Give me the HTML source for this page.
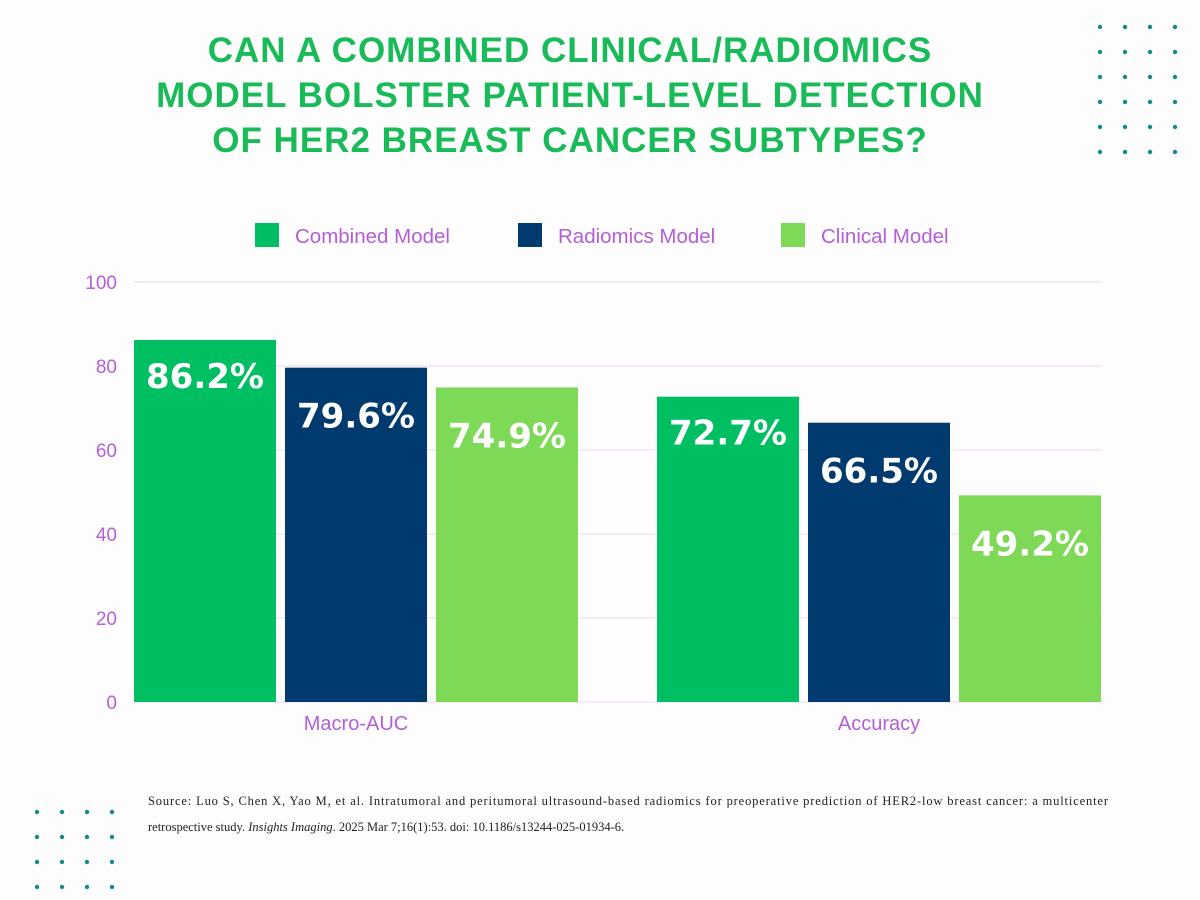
<!DOCTYPE html>
<html><head><meta charset="utf-8"><style>
body{margin:0;background:#fdfdfd;width:1200px;height:900px;overflow:hidden;font-family:"Liberation Sans",sans-serif}
svg{display:block}
</style></head><body>
<svg width="1200" height="900">
<g id="dots"></g>
<g font-family="Liberation Sans, sans-serif" font-weight="bold" font-size="35" fill="#19bb58" text-anchor="middle" letter-spacing="1">
<text x="570" y="62">CAN A COMBINED CLINICAL/RADIOMICS</text>
<text x="570" y="107">MODEL BOLSTER PATIENT-LEVEL DETECTION</text>
<text x="570" y="152">OF HER2 BREAST CANCER SUBTYPES?</text>
</g>
<g id="legend" font-size="20.5" fill="#b45fd6"></g>
<g id="grid"></g>
<g id="bars"></g>
<g font-family="Liberation Serif, serif" font-size="12.5" fill="#222">
<text x="148" y="805" textLength="960" lengthAdjust="spacing">Source: Luo S, Chen X, Yao M, et al. Intratumoral and peritumoral ultrasound-based radiomics for preoperative prediction of HER2-low breast cancer: a multicenter</text>
<text x="148" y="831">retrospective study. <tspan font-style="italic">Insights Imaging</tspan>. 2025 Mar 7;16(1):53. doi: 10.1186/s13244-025-01934-6.</text>
</g>
</svg>
<script>
const categories=["Macro-AUC","Accuracy"];
const seriesNames=["Combined Model","Radiomics Model","Clinical Model"];
const combined=[86.2,72.7];
const radiomics=[79.6,66.5];
const clinical=[74.9,49.2];
const yTicks=[0,20,40,60,80,100];
const colors=["#00bf63","#003a6e","#7ed957"];
const NS="http://www.w3.org/2000/svg";
function mk(t,a,p){const e=document.createElementNS(NS,t);for(const k in a)e.setAttribute(k,a[k]);p.appendChild(e);return e;}
const y0=702,pxPer=4.2;
function yS(v){return y0-v*pxPer;}
const plotL=94.5,catW=523,barW=142,gap=9;
function xBar(ci,si){return plotL+ci*catW+(catW-(3*barW+2*gap))/2+si*(barW+gap);}
const grid=document.getElementById('grid');
yTicks.forEach(t=>{
 const l=mk('line',{x1:134,x2:1102,y1:yS(t),y2:yS(t),stroke:'#f3e3f3','stroke-width':1.5},grid);
 
 
 const tx=mk('text',{x:117,y:yS(t)+7,'text-anchor':'end','font-size':19,fill:'#b45fd6'},grid);
 tx.textContent=t;
 
 
});
const bars=document.getElementById('bars');
const series=[combined,radiomics,clinical];
categories.forEach((c,ci)=>{
 series.forEach((s,si)=>{
  const x=xBar(ci,si),y=yS(s[ci]);
  const r=mk('rect',{x:x,y:y,width:barW,height:y0-y,fill:colors[si]},bars);
  
  
  const t=mk('text',{x:x+barW/2,y:y+48+(si?12:0),'text-anchor':'middle','font-size':34,'font-weight':'bold',fill:'#fff','font-family':'DejaVu Sans, sans-serif'},bars);
  t.textContent=s[ci].toFixed(1)+'%';
  
  
 });
 const cl=mk('text',{x:plotL+ci*catW+catW/2,y:730,'text-anchor':'middle','font-size':20,fill:'#b45fd6'},bars);
 cl.textContent=c;
 
 
});
const lg=document.getElementById('legend');
const lx=[255,518,781];
seriesNames.forEach((n,i)=>{
 const r=mk('rect',{x:lx[i],y:223,width:24,height:24,fill:colors[i]},lg);
 
 
 const t=mk('text',{x:lx[i]+40,y:243},lg);
 t.textContent=n;
 
 
});
const dots=document.getElementById('dots');
for(let r=0;r<6;r++)for(let c=0;c<4;c++){const d=mk('circle',{cx:1100+c*25,cy:27+r*25,r:2.2,fill:'#138a8a'},dots);}
for(let r=0;r<4;r++)for(let c=0;c<4;c++){const d=mk('circle',{cx:37+c*25,cy:812+r*25,r:2.2,fill:'#138a8a'},dots);}
</script>
</body></html>
